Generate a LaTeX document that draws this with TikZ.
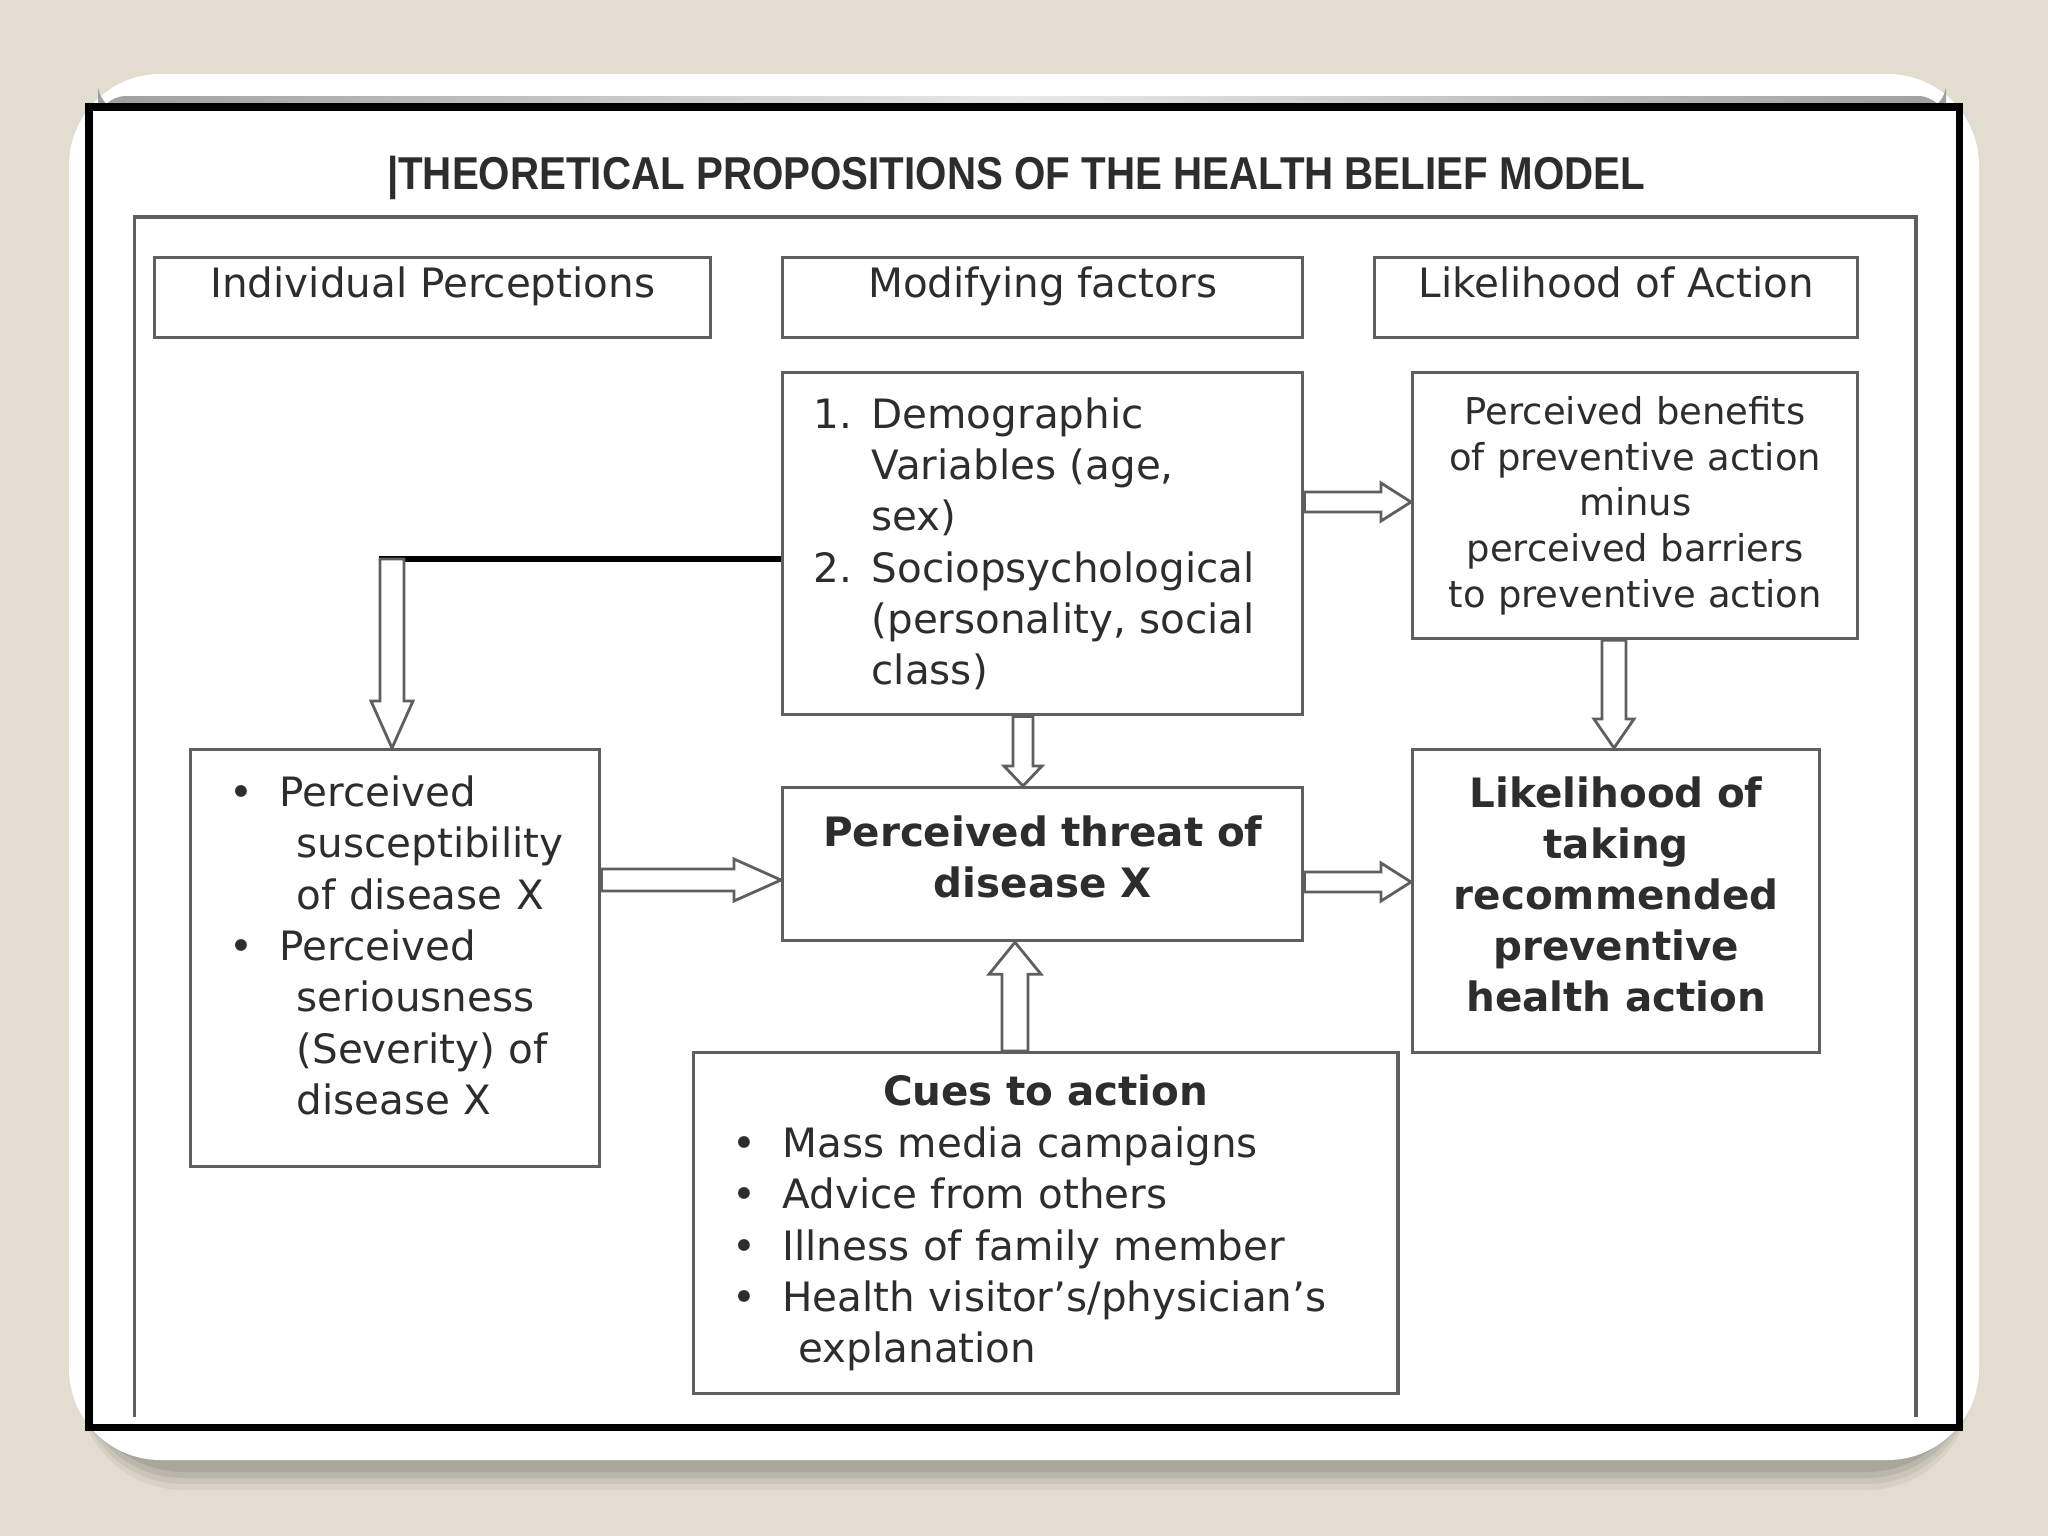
\documentclass[tikz,border=0pt]{standalone}
\usepackage{fontspec}
\setmainfont{DejaVu Sans}
\newfontfamily\titlefont[FakeStretch=0.875]{Liberation Sans}
\usetikzlibrary{calc}
\newlength\pxu
\setlength\pxu{0.01cm}
\definecolor{bgbeige}{RGB}{227,221,208}
\definecolor{boxgray}{RGB}{95,95,95}
\definecolor{textcol}{RGB}{45,45,45}
\definecolor{shadowcol}{RGB}{120,118,108}
\newcommand{\blockarrow}[5]{%
  \draw[blockarr] let \p1=(#1), \p2=(#2),
    \n1={veclen(\x2-\x1,\y2-\y1)},
    \n2={(\x2-\x1)/\n1}, \n3={(\y2-\y1)/\n1},
    \n4={#3*0.284528}, \n5={#4*0.284528}, \n6={#5*0.284528}
  in ({\x1-\n3*\n4},{\y1+\n2*\n4})
  -- ({\x2-\n2*\n6-\n3*\n4},{\y2-\n3*\n6+\n2*\n4})
  -- ({\x2-\n2*\n6-\n3*\n5},{\y2-\n3*\n6+\n2*\n5})
  -- (\x2,\y2)
  -- ({\x2-\n2*\n6+\n3*\n5},{\y2-\n3*\n6-\n2*\n5})
  -- ({\x2-\n2*\n6+\n3*\n4},{\y2-\n3*\n6-\n2*\n4})
  -- ({\x1+\n3*\n4},{\y1-\n2*\n4}) -- cycle;}
\newcommand{\lift}[1]{\rule[-#1]{0pt}{0pt}}
\tikzset{
  box/.style={draw=boxgray, line width=0.9pt, fill=white, inner sep=0pt, text=textcol, anchor=north west},
  txt/.style={font=\fontsize{11.5}{14.6}\selectfont},
  hdr/.style={box, txt, text height=9pt, text depth=9pt},
  btxt/.style={font=\fontsize{11.5}{14.5}\selectfont\bfseries},
  smalltxt/.style={font=\fontsize{10.5}{13}\selectfont},
  blockarr/.style={draw=boxgray, line width=0.8pt, fill=white, line join=miter},
  frameline/.style={draw=boxgray, line width=0.9pt},
}
\begin{document}
\begin{tikzpicture}[x=0.01cm, y=-0.01cm]
\useasboundingbox (0,0) rectangle (2048,1536);
\fill[bgbeige] (0,0) rectangle (2048,1536);
% card shadow
\foreach \k/\o in {30/0.10, 24/0.14, 18/0.18, 12/0.24} {
  \fill[shadowcol, opacity=\o, rounded corners=30] (78,110) rectangle (1972,1460+\k);
}
% card
\fill[white, rounded corners=26] (69,74) rectangle (1979,1460);
% gradient bar above frame
\shade[left color=gray!75, right color=gray!75, middle color=gray!18, rounded corners=8] (98,96) rectangle (1946,112);
% black frame
\fill[white] (89,107) rectangle (1959,1427);
\draw[black, line width=2pt] (89,107) rectangle (1959,1427);
% title
\node[font=\titlefont\bfseries\fontsize{13.1}{15}\selectfont, text=textcol] (title) at (1016,178) {|THEORETICAL PROPOSITIONS OF THE HEALTH BELIEF MODEL};
% inner frame
\draw[frameline] (134.5,1417) -- (134.5,217) -- (1916,217) -- (1916,1417);
% headers
\node[hdr, minimum width=5.56cm, minimum height=0.80cm] (hIP) at (153,256) {Individual Perceptions};
\node[hdr, minimum width=5.20cm, minimum height=0.80cm] (hMF) at (781,256) {Modifying factors};
\node[hdr, minimum width=4.83cm, minimum height=0.80cm] (hLA) at (1373,256) {Likelihood of Action};
% modifying factors
\node[box, txt, minimum width=5.20cm, minimum height=3.42cm, text width=5.20cm, align=left] (mod) at (781,371) {%
\hspace*{31\pxu}\makebox[58\pxu][l]{1.}Demographic\\
\hspace*{89\pxu}Variables (age,\\
\hspace*{89\pxu}sex)\\
\hspace*{31\pxu}\makebox[58\pxu][l]{2.}Sociopsychological\\
\hspace*{89\pxu}(personality, social\\
\hspace*{89\pxu}class)};
% benefits
\node[box, smalltxt, minimum width=4.45cm, minimum height=2.66cm, text width=4.45cm, align=center] (ben) at (1411,371) {%
Perceived benefits\\ of preventive action\\ minus\\ perceived barriers\\ to preventive action};
% left box
\node[box, txt, minimum width=4.09cm, minimum height=4.17cm, text width=4.09cm, align=left] (left) at (189,748) {%
\hspace*{39\pxu}\makebox[50\pxu][l]{•}Perceived\\
\hspace*{106\pxu}susceptibility\\
\hspace*{106\pxu}of disease X\\
\hspace*{39\pxu}\makebox[50\pxu][l]{•}Perceived\\
\hspace*{106\pxu}seriousness\\
\hspace*{106\pxu}(Severity) of\\
\hspace*{106\pxu}disease X\lift{7.4pt}};
% threat
\node[box, btxt, minimum width=5.20cm, minimum height=1.53cm, text width=5.20cm, align=center] (threat) at (781,786) {%
Perceived threat of\\ disease X\lift{4.5pt}};
% likelihood
\node[box, btxt, minimum width=4.07cm, minimum height=3.03cm, text width=4.07cm, align=center] (lik) at (1411,748) {%
Likelihood of\\ taking\\ recommended\\ preventive\\ health action\lift{4pt}};
% cues
\node[box, txt, minimum width=7.04cm, minimum height=3.41cm, text width=7.04cm, align=left] (cues) at (692,1051) {%
\makebox[704\pxu]{\bfseries Cues to action}\\
\hspace*{39\pxu}\makebox[50\pxu][l]{•}Mass media campaigns\\
\hspace*{39\pxu}\makebox[50\pxu][l]{•}Advice from others\\
\hspace*{39\pxu}\makebox[50\pxu][l]{•}Illness of family member\\
\hspace*{39\pxu}\makebox[50\pxu][l]{•}Health visitor’s/physician’s\\
\hspace*{105\pxu}explanation};
% connectors
\coordinate (bl) at (379,559);
\coordinate (bd) at (392,559);
\coordinate (r1) at (0,502);
\coordinate (r2) at (0,880);
\coordinate (r3) at (0,882);
\coordinate (c1) at (1023,0);
\coordinate (c2) at (1614,0);
\coordinate (c3) at (1015,0);
\draw[black, line width=1.5pt] (mod.west |- bl) -- (bl);
\blockarrow{bd}{left.north -| bd}{12}{21}{47}
\blockarrow{mod.east |- r1}{ben.west |- r1}{10}{19}{30}
\blockarrow{mod.south -| c1}{threat.north -| c1}{10}{19}{20}
\blockarrow{left.east |- r2}{threat.west |- r2}{11}{21}{47}
\blockarrow{threat.east |- r3}{lik.west |- r3}{10}{19}{30}
\blockarrow{ben.south -| c2}{lik.north -| c2}{12}{20}{29}
\blockarrow{cues.north -| c3}{threat.south -| c3}{13}{26}{32}
\end{tikzpicture}
\end{document}
